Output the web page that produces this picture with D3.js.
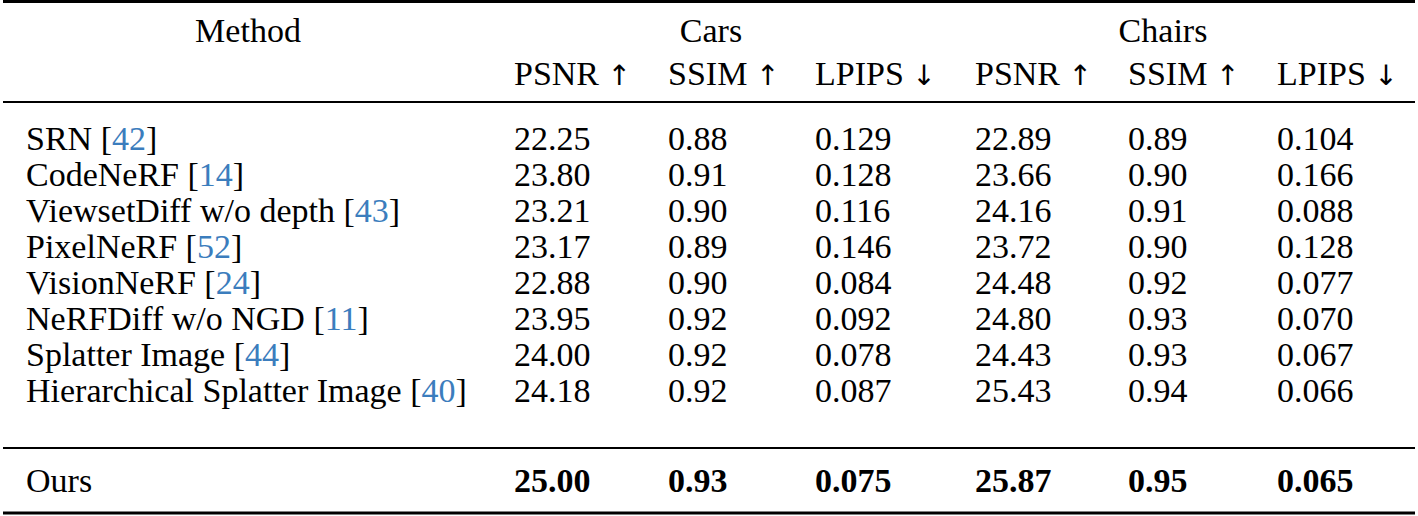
<!DOCTYPE html>
<html><head><meta charset="utf-8">
<script src="https://cdn.jsdelivr.net/npm/d3@7"></script>
<style>body{margin:0;background:#fff}svg{display:block}</style>
</head><body><div id="table"></div>
<script>
// table contents
let methods = ["SRN", "CodeNeRF", "ViewsetDiff w/o depth", "PixelNeRF", "VisionNeRF",
    "NeRFDiff w/o NGD", "Splatter Image", "Hierarchical Splatter Image", "Ours"];
let citations = ["42", "14", "43", "52", "24", "11", "44", "40", null];
let groups = ["Cars", "Chairs"];
let metrics = ["PSNR", "SSIM", "LPIPS", "PSNR", "SSIM", "LPIPS"];
let arrows = ["↑", "↑", "↓", "↑", "↑", "↓"];
let carsPSNR = ["22.25", "23.80", "23.21", "23.17", "22.88", "23.95", "24.00", "24.18", "25.00"];
let carsSSIM = ["0.88", "0.91", "0.90", "0.89", "0.90", "0.92", "0.92", "0.92", "0.93"];
let carsLPIPS = ["0.129", "0.128", "0.116", "0.146", "0.084", "0.092", "0.078", "0.087", "0.075"];
let chairsPSNR = ["22.89", "23.66", "24.16", "23.72", "24.48", "24.80", "24.43", "25.43", "25.87"];
let chairsSSIM = ["0.89", "0.90", "0.91", "0.90", "0.92", "0.93", "0.93", "0.94", "0.95"];
let chairsLPIPS = ["0.104", "0.166", "0.088", "0.128", "0.077", "0.070", "0.067", "0.066", "0.065"];
let columns = [carsPSNR, carsSSIM, carsLPIPS, chairsPSNR, chairsSSIM, chairsLPIPS];

let width = 1418, height = 516;
let svg = d3.select("#table").append("svg")
    .attr("width", width).attr("height", height)
    .style("font-family", "'Liberation Serif', 'DejaVu Serif', serif")
    .style("font-size", "34px")
    .attr("fill", "#000");

// column x positions (left edge)
let colX = d3.scaleOrdinal().domain(d3.range(6)).range([514, 668, 815, 975, 1128, 1277]);
let groupX = d3.scaleOrdinal().domain(groups).range([711, 1163]);

// row baselines: 8 rows, then the "Ours" row after a rule
let y = d3.scaleLinear().domain([0, 7]).range([150, 402]);
function rowY(i) { return i < 8 ? y(i) : 492; }

// rules
let rules = [{y: 1.5, w: 3}, {y: 102, w: 1.8}, {y: 448, w: 1.8}, {y: 513, w: 3}];
svg.selectAll("line.rule").data(rules).enter().append("line")
    .attr("x1", 3).attr("x2", 1415)
    .attr("y1", d => d.y).attr("y2", d => d.y)
    .attr("stroke", "#000").attr("stroke-width", d => d.w);

// header
svg.append("text").attr("x", 248).attr("y", 42).attr("text-anchor", "middle").text("Method");
svg.selectAll("text.group").data(groups).enter().append("text")
    .attr("x", d => groupX(d)).attr("y", 42).attr("text-anchor", "middle").text(d => d);
let mt = svg.selectAll("text.metric").data(metrics).enter().append("text")
    .attr("x", (d, i) => colX(i)).attr("y", 85);
mt.append("tspan").text(d => d + " ");
mt.append("tspan").attr("font-family", "'DejaVu Sans'").attr("font-size", "28px")
    .attr("fill", "#000").text((d, i) => arrows[i]);

// method names with blue citations
let names = svg.selectAll("text.name").data(methods).enter().append("text")
    .attr("x", 26).attr("y", (d, i) => rowY(i));
names.append("tspan").text((d, i) => citations[i] ? d + " [" : d);
names.filter((d, i) => citations[i]).append("tspan").attr("fill", "#3b7dbd")
    .text((d, i) => citations[i]);
names.filter((d, i) => citations[i]).append("tspan").text("]");

// values
columns.forEach(function(col, c) {
    svg.selectAll("text.v" + c).data(col).enter().append("text")
        .attr("x", colX(c)).attr("y", (d, i) => rowY(i))
        .attr("font-weight", (d, i) => i === 8 ? "bold" : "normal")
        .text(d => d);
});
</script></body></html>
